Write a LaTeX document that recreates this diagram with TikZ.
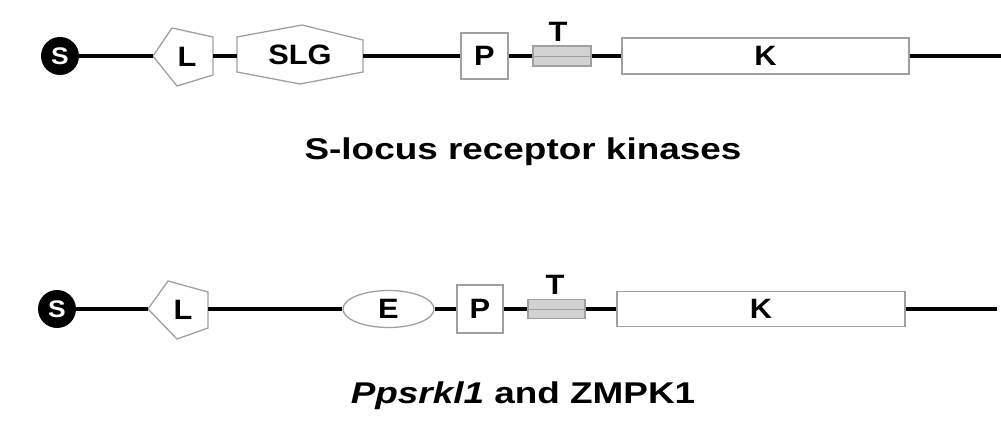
\documentclass[tikz,border=0pt]{standalone}
\usepackage{fontspec}
\setmainfont{Liberation Sans}
\usetikzlibrary{shapes.geometric}
\newcommand{\wide}[1]{\scalebox{1.1}[1]{#1}}
\newcommand{\widett}[1]{\scalebox{1.23}[1]{#1}}
\definecolor{edgegray}{HTML}{A0A0A0}
\definecolor{tmfill}{HTML}{D2D2D2}
\begin{document}
\begin{tikzpicture}[x=1pt,y=-1pt,
  bb/.style={line width=3.2pt, black},
  dom/.style={draw=edgegray, line width=1.3pt, fill=white},
  lab/.style={font=\fontsize{28}{28}\selectfont\bfseries, inner sep=0pt},
  boxdom/.style={dom, rectangle, inner sep=0pt, font=\fontsize{28}{28}\selectfont\bfseries},
  tmdom/.style={draw=edgegray, line width=1.3pt, fill=tmfill, rectangle, inner sep=0pt},
  sdot/.style={circle, fill=black, text=white, minimum size=38pt, inner sep=0pt, font=\fontsize{24}{24}\selectfont\bfseries},
  ttl/.style={font=\fontsize{30}{30}\selectfont\bfseries, inner sep=0pt, anchor=base}
]
\useasboundingbox[fill=white] (0,0) rectangle (1001,435);

% ---------- Row 1 ----------
\node[sdot] (S1) at (60,56) {\wide{S}};
\draw[dom] (153,56) coordinate (L1w) -- (172,28) -- (213,37) -- (213,75) -- (177,86) -- cycle;
\coordinate (L1e) at (213,56);
\node[lab] (L1) at (187,57) {\wide{L}};
\draw[dom] (237,37) -- (302,25) -- (363,40) -- (363,72) -- (300,84) -- (237,72) -- cycle;
\coordinate (G1w) at (237,56);
\coordinate (G1e) at (363,56);
\node[lab] (G1) at (300,55) {\wide{SLG}};
\node[boxdom, minimum width=47pt, minimum height=46pt] (P1) at (484.5,56) {\wide{P}};
\node[tmdom, minimum width=58pt, minimum height=20pt] (T1) at (562,56) {};
\draw[edgegray, line width=0.6pt] (T1.west) -- (T1.east);
\node[lab] (TL1) at (558,32) {\wide{T}};
\node[boxdom, minimum width=287pt, minimum height=36pt] (K1) at (765.5,56) {\wide{K}};
\coordinate (E1) at (1001,56);
\draw[bb] (S1) -- (L1w);
\draw[bb] (L1e) -- (G1w);
\draw[bb] (G1e) -- (P1.west);
\draw[bb] (P1.east) -- (T1.west);
\draw[bb] (T1.east) -- (K1.west);
\draw[bb] (K1.east) -- (E1);
\node[ttl] (title1) at (523,160) {\widett{S-locus receptor kinases}};

% ---------- Row 2 ----------
\node[sdot] (S2) at (57,309) {\wide{S}};
\draw[dom] (148,309) coordinate (L2w) -- (168,281) -- (208,292) -- (208,328) -- (177,339) -- cycle;
\coordinate (L2e) at (208,309);
\node[lab] (L2) at (183,310) {\wide{L}};
\node[dom, ellipse, minimum width=91pt, minimum height=37pt, inner sep=0pt, font=\fontsize{28}{28}\selectfont\bfseries] (E2) at (388.5,309) {\wide{E}};
\node[boxdom, minimum width=46pt, minimum height=48pt] (P2) at (480,309) {\wide{P}};
\node[tmdom, minimum width=57pt, minimum height=19pt] (T2) at (556.5,309) {};
\draw[edgegray, line width=0.6pt] (T2.west) -- (T2.east);
\node[lab] (TL2) at (555,285) {\wide{T}};
\node[boxdom, minimum width=288pt, minimum height=35pt] (K2) at (761,309) {\wide{K}};
\coordinate (E2end) at (997,309);
\draw[bb] (S2) -- (L2w);
\draw[bb] (L2e) -- (E2.west);
\draw[bb] (E2.east) -- (P2.west);
\draw[bb] (P2.east) -- (T2.west);
\draw[bb] (T2.east) -- (K2.west);
\draw[bb] (K2.east) -- (E2end);
\node[ttl] (title2) at (523,403) {\widett{\textit{Ppsrkl1} and ZMPK1}};
\end{tikzpicture}
\end{document}
